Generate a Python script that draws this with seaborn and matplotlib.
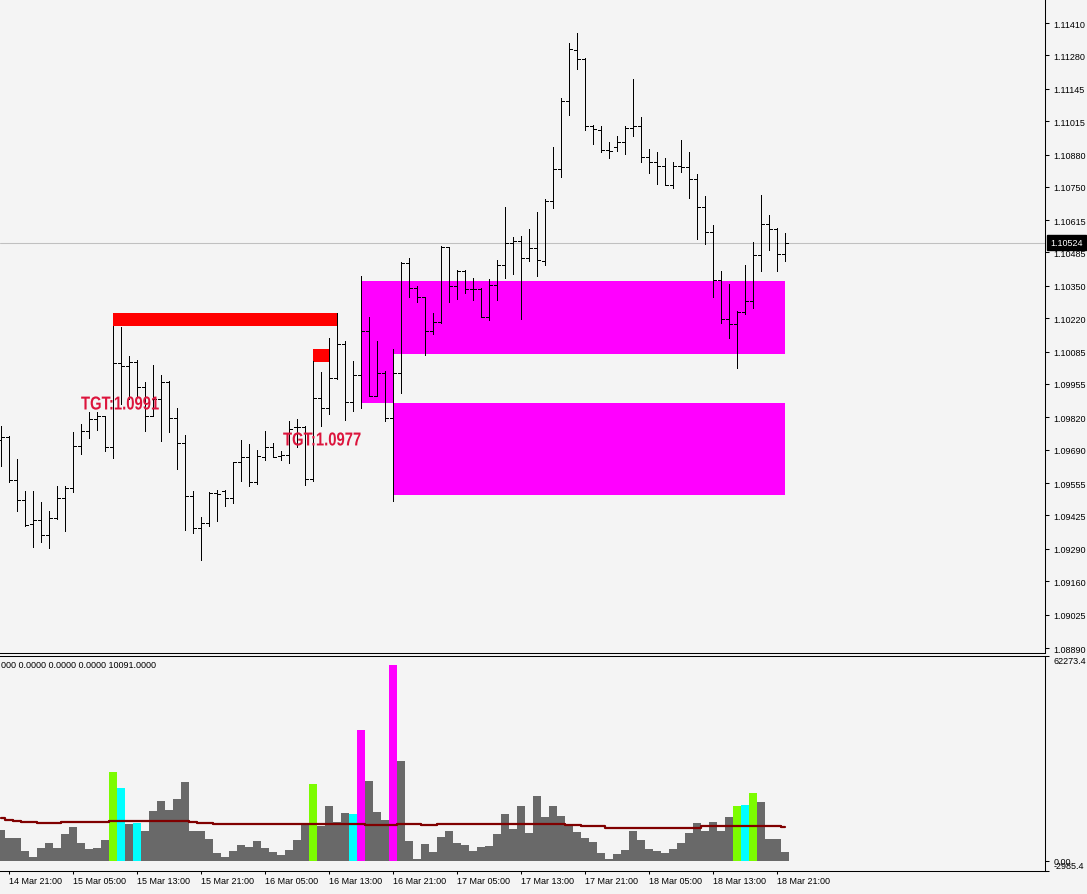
import numpy as np
import pandas as pd
import matplotlib
matplotlib.use("Agg")
import matplotlib.pyplot as plt
from matplotlib.patheffects import AbstractPathEffect
from matplotlib.transforms import Affine2D
import seaborn as sns

# H1 bars, 14 Mar 20:00 .. 18 Mar 22:00
opens = [1.09729, 1.09741, 1.09566, 1.09486, 1.09390, 1.09407, 1.09344, 1.09414, 1.09494, 1.09534,
         1.09704, 1.09765, 1.09813, 1.09824, 1.09700, 1.10039, 1.10026, 1.10044, 1.09941, 1.09827,
         1.09894, 1.09963, 1.09819, 1.09715, 1.09502, 1.09373, 1.09394, 1.09515, 1.09524, 1.09495,
         1.09639, 1.09660, 1.09558, 1.09659, 1.09699, 1.09665, 1.09668, 1.09780, 1.09780, 1.09571,
         1.09897, 1.09859, 1.09979, 1.10115, 1.09883, 1.09991, 1.10167, 1.09907, 1.09999, 1.09816,
         1.10000, 1.10441, 1.10343, 1.10304, 1.10167, 1.10203, 1.10506, 1.10348, 1.10411, 1.10338,
         1.10338, 1.10223, 1.10354, 1.10436, 1.10522, 1.10532, 1.10461, 1.10502, 1.10449, 1.10694,
         1.10820, 1.11094, 1.11300, 1.11265, 1.10996, 1.10977, 1.10899, 1.10909, 1.10929, 1.10987,
         1.10994, 1.10870, 1.10848, 1.10833, 1.10758, 1.10833, 1.10828, 1.10780, 1.10669, 1.10567,
         1.10373, 1.10215, 1.10196, 1.10244, 1.10288, 1.10475, 1.10598, 1.10578, 1.10477]
highs = [1.09784, 1.09746, 1.09652, 1.09522, 1.09522, 1.09480, 1.09442, 1.09543, 1.09544, 1.09761,
         1.09793, 1.09840, 1.09840, 1.09827, 1.10190, 1.10184, 1.10066, 1.10050, 1.09964, 1.10031,
         1.09991, 1.09968, 1.09858, 1.09749, 1.09524, 1.09418, 1.09518, 1.09527, 1.09527, 1.09639,
         1.09727, 1.09711, 1.09688, 1.09764, 1.09715, 1.09683, 1.09805, 1.09813, 1.09786, 1.10046,
         1.10004, 1.10139, 1.10240, 1.10127, 1.10046, 1.10389, 1.10225, 1.10127, 1.10006, 1.10096,
         1.10446, 1.10461, 1.10348, 1.10306, 1.10240, 1.10512, 1.10508, 1.10415, 1.10413, 1.10382,
         1.10340, 1.10378, 1.10454, 1.10667, 1.10546, 1.10550, 1.10579, 1.10649, 1.10700, 1.10911,
         1.11108, 1.11329, 1.11370, 1.11268, 1.10999, 1.10994, 1.10929, 1.10953, 1.10996, 1.11184,
         1.11030, 1.10902, 1.10891, 1.10864, 1.10848, 1.10938, 1.10890, 1.10801, 1.10713, 1.10596,
         1.10410, 1.10358, 1.10250, 1.10434, 1.10527, 1.10717, 1.10636, 1.10582, 1.10563]
lows = [1.09625, 1.09558, 1.09444, 1.09381, 1.09298, 1.09319, 1.09292, 1.09412, 1.09363, 1.09520,
        1.09673, 1.09735, 1.09770, 1.09686, 1.09657, 1.09874, 1.09894, 1.09902, 1.09766, 1.09825,
        1.09726, 1.09760, 1.09612, 1.09367, 1.09352, 1.09246, 1.09383, 1.09403, 1.09461, 1.09473,
        1.09565, 1.09542, 1.09551, 1.09648, 1.09659, 1.09648, 1.09635, 1.09699, 1.09547, 1.09565,
        1.09786, 1.09834, 1.09975, 1.09811, 1.09844, 1.09856, 1.09907, 1.09905, 1.09804, 1.09484,
        1.09917, 1.10306, 1.10286, 1.10071, 1.10156, 1.10200, 1.10286, 1.10297, 1.10320, 1.10294,
        1.10223, 1.10213, 1.10293, 1.10382, 1.10399, 1.10217, 1.10452, 1.10391, 1.10436, 1.10665,
        1.10790, 1.11040, 1.11225, 1.10980, 1.10923, 1.10889, 1.10867, 1.10895, 1.10883, 1.10956,
        1.10851, 1.10806, 1.10762, 1.10756, 1.10746, 1.10810, 1.10706, 1.10540, 1.10520, 1.10304,
        1.10199, 1.10141, 1.10020, 1.10237, 1.10260, 1.10411, 1.10496, 1.10411, 1.10452]
closes = [1.09741, 1.09566, 1.09486, 1.09387, 1.09407, 1.09344, 1.09414, 1.09494, 1.09534, 1.09704,
          1.09765, 1.09813, 1.09824, 1.09700, 1.10039, 1.10026, 1.10044, 1.09941, 1.09827, 1.09894,
          1.09963, 1.09819, 1.09715, 1.09502, 1.09373, 1.09394, 1.09515, 1.09510, 1.09495, 1.09639,
          1.09660, 1.09558, 1.09665, 1.09699, 1.09661, 1.09668, 1.09773, 1.09780, 1.09571, 1.09897,
          1.09859, 1.09979, 1.10115, 1.09883, 1.09991, 1.10167, 1.09907, 1.09999, 1.09816, 1.10000,
          1.10441, 1.10343, 1.10304, 1.10167, 1.10203, 1.10506, 1.10348, 1.10411, 1.10338, 1.10338,
          1.10223, 1.10354, 1.10436, 1.10522, 1.10532, 1.10461, 1.10502, 1.10454, 1.10694, 1.10820,
          1.11094, 1.11304, 1.11265, 1.10996, 1.10983, 1.10899, 1.10893, 1.10929, 1.10987, 1.10994,
          1.10870, 1.10848, 1.10833, 1.10758, 1.10833, 1.10828, 1.10780, 1.10669, 1.10567, 1.10373,
          1.10215, 1.10196, 1.10244, 1.10288, 1.10475, 1.10598, 1.10578, 1.10477, 1.10524]

volumes = [9360, 6920, 6920, 2960, 1220, 3870, 5400, 3870, 8140, 10280,
           5400, 3570, 3870, 6310, 27050, 22170, 11190, 11500, 9060, 15160,
           18210, 15460, 18820, 24000, 9060, 9060, 6620, 2350, 1220, 2960,
           4790, 4180, 6010, 3870, 2650, 1740, 3260, 6310, 10890, 23390,
           10580, 16680, 11800, 14550, 14240, 39560, 24310, 14850, 12410, 59380,
           30100, 6010, 520, 5090, 2650, 7230, 9060, 5400, 4790, 2960,
           4180, 4480, 8140, 14240, 9670, 16680, 8450, 19730, 13330, 16680,
           13630, 11190, 8750, 6920, 5700, 2350, 520, 2040, 3260, 9060,
           6310, 3570, 2960, 2350, 3570, 5400, 8450, 11500, 9060, 11800,
           9060, 13330, 16680, 16990, 20650, 17900, 6620, 6620, 2650]
# n = normal, l = lime, c = cyan, m = magenta
vol_kind = list("nnnnnnnnnn" "nnnnlcncnn" "nnnnnnnnnn" "nnnnnnnnnl" "nnnncmnnnm"
                "nnnnnnnnnn" "nnnnnnnnnn" "nnnnnnnnnn" "nnnnnnnnnn" "nnlclnnnn")
vol_ma = [12810, 12400, 12000, 11590, 11590, 11285, 11285, 11285, 11590, 11590,
          11590, 11590, 11590, 11590, 11895, 11895, 11895, 11895, 11895, 11895,
          11895, 11895, 11895, 11895, 11690, 11285, 11285, 10980, 10980, 10980,
          10980, 10980, 10980, 10980, 10980, 10980, 10980, 10980, 10980, 11180,
          11180, 11180, 11080, 11080, 11080, 11080, 10675, 10675, 10675, 10675,
          10980, 10980, 10980, 10675, 10675, 10980, 10980, 10980, 10980, 10980,
          10980, 10980, 10980, 10980, 10980, 10980, 10980, 10980, 10980, 10980,
          10980, 10675, 10675, 10370, 10370, 10370, 10065, 10065, 10065, 10065,
          10065, 10065, 10065, 10065, 10065, 10065, 10065, 10065, 10370, 10370,
          10370, 10370, 10370, 10370, 10370, 10370, 10370, 10370, 10091]

last_price = 1.10524
price_ticks = [1.11410, 1.11280, 1.11145, 1.11015, 1.10880, 1.10750, 1.10615, 1.10485, 1.10350, 1.10220,
               1.10085, 1.09955, 1.09820, 1.09690, 1.09555, 1.09425, 1.09290, 1.09160, 1.09025, 1.08890]
time_labels = ["14 Mar 21:00", "15 Mar 05:00", "15 Mar 13:00", "15 Mar 21:00", "16 Mar 05:00",
               "16 Mar 13:00", "16 Mar 21:00", "17 Mar 05:00", "17 Mar 13:00", "17 Mar 21:00",
               "18 Mar 05:00", "18 Mar 13:00", "18 Mar 21:00"]
time_label_bars = [1, 9, 17, 25, 33, 41, 49, 57, 65, 73, 81, 89, 97]

# zones drawn on the chart
zone_start = [14, 39, 45, 45, 49]
zone_end = [42, 41, 98, 49, 98]
zone_low = [1.10188, 1.10044, 1.10075, 1.09878, 1.09507]
zone_high = [1.10241, 1.10096, 1.10370, 1.10370, 1.09878]
zone_color = ["#FF0000", "#FF0000", "#FF00FF", "#FF00FF", "#FF00FF"]

tgt_text = ["TGT:1.0991", "TGT:1.0977"]
tgt_bar = [10.0, 35.25]
tgt_price = [1.09870, 1.09725]

vol_top, vol_bottom = 62273.4, -2985.4
vol_header = "000 0.0000 0.0000 0.0000 10091.0000"

BG = "#F4F4F4"
sns.set_theme(style="white", rc={"axes.facecolor": BG, "figure.facecolor": BG,
                                 "axes.edgecolor": "black", "axes.linewidth": 0.75})
plt.rcParams["font.family"] = ["Liberation Sans", "DejaVu Sans"]


class Squeeze(AbstractPathEffect):
    """Draws text glyphs narrower (no condensed font is installed)."""

    def __init__(self, sx, x0):
        super().__init__()
        self.sx = sx
        self.x0 = x0

    def draw_path(self, renderer, gc, tpath, affine, rgbFace=None):
        squeeze = Affine2D().translate(-self.x0, 0).scale(self.sx, 1).translate(self.x0, 0)
        renderer.draw_path(gc, tpath, affine + squeeze, rgbFace)


W, H = 1087, 895
fig = plt.figure(figsize=(W / 100, H / 100), dpi=100)
ax = fig.add_axes([0, (H - 654) / H, 1045 / W, 654 / H])
axv = fig.add_axes([0, (H - 871.5) / H, 1045 / W, 215 / H])

bars = np.arange(len(opens))
xlim = (-0.125, 130.5)

# --- price panel ---
ax.set_xlim(*xlim)
ax.set_ylim(1.08870, 1.11507)
ax.axhline(last_price, color="#C0C0C0", lw=0.75, zorder=1)
for s, e, lo, hi, c in zip(zone_start, zone_end, zone_low, zone_high, zone_color):
    ax.fill_between([s, e], lo, hi, color=c, lw=0, zorder=2, antialiased=False)

ax.vlines(bars, lows, highs, colors="black", lw=0.72, zorder=3, antialiased=False)
ax.hlines(opens, bars - 0.375, bars, colors="black", lw=0.72, zorder=3, antialiased=False)
ax.hlines(closes, bars, bars + 0.375, colors="black", lw=0.72, zorder=3, antialiased=False)

for t, b, p in zip(tgt_text, tgt_bar, tgt_price):
    x0 = ax.transData.transform((b, p))[0]
    ax.text(b, p, t, color="#DC143C", fontsize=13.5, fontweight="bold",
            ha="left", va="center", zorder=6, path_effects=[Squeeze(0.79, x0)])

ax.set_xticks([])
ax.yaxis.tick_right()
ax.set_yticks(price_ticks)
ax.set_yticklabels([f"{p:.5f}" for p in price_ticks])
ax.tick_params(axis="y", direction="out", length=3, width=0.75, pad=3, labelsize=6.5,
               colors="black", right=True, left=False)
for side in ["top", "left"]:
    ax.spines[side].set_visible(False)

ax.annotate(f"{last_price:.5f}", xy=(1, last_price), xycoords=ax.get_yaxis_transform(),
            xytext=(4, 0), textcoords="offset points", ha="left", va="center",
            color="white", fontsize=6.5, annotation_clip=False, zorder=7,
            bbox=dict(boxstyle="square,pad=0.35", fc="black", ec="black"))

# --- volume panel ---
vdf = pd.DataFrame({"bar": bars, "volume": volumes, "kind": vol_kind})
palette = {"n": "#696969", "l": "#7CFC00", "c": "#00FFFF", "m": "#FF00FF"}
sns.barplot(data=vdf, x="bar", y="volume", hue="kind", palette=palette, dodge=False,
            width=1.0, saturation=1, linewidth=0, errorbar=None, legend=False, ax=axv)
sns.lineplot(x=bars, y=vol_ma, color="#800000", linewidth=1.6, drawstyle="steps-mid", ax=axv)

axv.set_xlim(*xlim)
axv.set_ylim(vol_bottom, vol_top)
axv.set_xlabel("")
axv.set_ylabel("")
axv.set_xticks(time_label_bars)
axv.set_xticklabels(time_labels, ha="left")
axv.tick_params(axis="x", direction="out", length=2.5, width=0.75, pad=1.5, labelsize=6.5,
                colors="black", bottom=True)
axv.yaxis.tick_right()
axv.set_yticks([vol_top, 0, vol_bottom])
axv.set_yticklabels(["62273.4", "0.00", "-2985.4"])
axv.tick_params(axis="y", direction="out", length=3, width=0.75, pad=3, labelsize=6.5,
                colors="black", right=True, left=False)
ylabs = axv.get_yticklabels()
ylabs[0].set_va("top")
ylabs[2].set_va("bottom")
axv.spines["left"].set_visible(False)

fig.text(155.7 / W, 1 - 666 / H, vol_header, ha="right", va="center", fontsize=6.5, color="black")

fig.savefig("out.png", dpi=100, facecolor=BG)
